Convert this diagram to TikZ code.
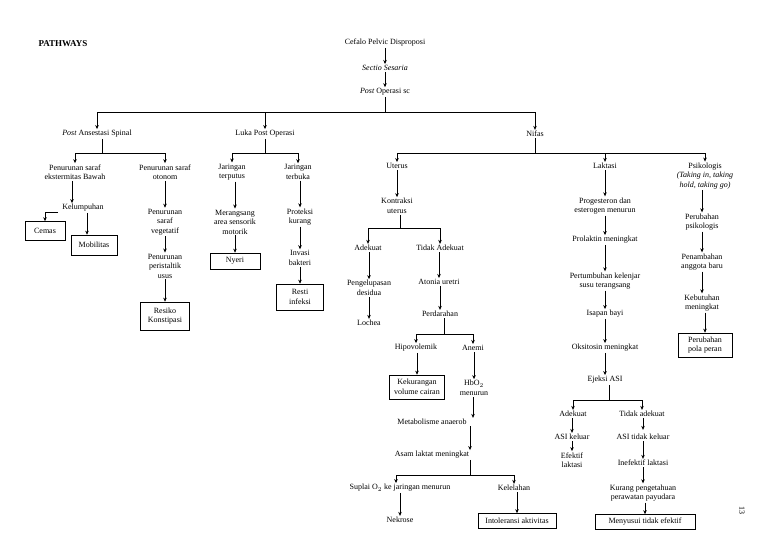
\documentclass[tikz,border=0pt]{standalone}
\usepackage{fontspec}
\setmainfont{Liberation Serif}
\usetikzlibrary{arrows.meta}
\begin{document}
\begin{tikzpicture}[x=1pt,y=-1pt,
  t/.style={inner sep=1pt,align=center,font=\fontsize{8}{9.5}\selectfont},
  bx/.style={t,draw,inner sep=2.5pt},
  arr/.style={-{Stealth[length=4pt,width=3.5pt]}},
  every path/.style={line width=0.6pt}]
\useasboundingbox (0,0) rectangle (768,543);
\newcommand{\va}[2]{\draw[arr] (#2.north |- #1.south) -- (#2.north);}
\node[t,font=\fontsize{9}{10}\selectfont\bfseries] (pw) at (63,44) {PATHWAYS};
\node[t] (cpd) at (385,43) {Cefalo Pelvic Disproposi};
\node[t] (ss) at (385,68) {\itshape Sectio Sesaria};
\node[t] (po) at (385,92) {\textit{Post} Operasi sc};
\node[t] (pas) at (97,134) {\textit{Post} Ansestasi Spinal};
\node[t] (lpo) at (265,134) {Luka Post Operasi};
\node[t] (nif) at (535,134) {Nifas};
\va{cpd}{ss}\va{ss}{po}
\draw (po.south) -- (po.south |- 0,112);
\draw (pas.north |- 0,112) -- (nif.north |- 0,112);
\foreach \n in {pas,lpo,nif}{\draw[arr] (\n.north |- 0,112) -- (\n.north);}
% Post anestesi
\node[t] (pse) at (75,172) {Penurunan saraf\\ekstermitas Bawah};
\node[t] (pso) at (165,172) {Penurunan saraf\\otonom};
\draw (102,0 |- pas.south) -- (102,153);
\draw (pse.north |- 0,153) -- (pso.north |- 0,153);
\foreach \n in {pse,pso}{\draw[arr] (\n.north |- 0,153) -- (\n.north);}
\node[t] (kel) at (83,208) {Kelumpuhan};
\draw[arr] (72,0 |- pse.south) -- (72,0 |- kel.north);
\node[bx,minimum width=40pt,minimum height=19pt] (cem) at (45,231) {Cemas};
\coordinate (kl) at (58,212);
\draw[arr] (kl) -| (cem.north);
\node[bx,minimum width=46pt,minimum height=20pt] (mob) at (94,245) {Mobilitas};
\draw[arr] (87,0 |- kel.south) -- (87,0 |- mob.north);
\node[t] (psv) at (165,222) {Penurunan\\saraf\\vegetatif};
\node[t] (ppu) at (165,266) {Penurunan\\peristaltik\\usus};
\node[bx,minimum width=49pt,minimum height=28pt] (rk) at (165,316) {Resiko\\Konstipasi};
\va{pso}{psv}\va{psv}{ppu}\va{ppu}{rk}
% Luka
\node[t] (jtp) at (232,172) {Jaringan\\terputus};
\node[t] (jtb) at (298,172) {Jaringan\\terbuka};
\draw (lpo.south) -- (lpo.south |- 0,153);
\draw (jtp.north |- 0,153) -- (jtb.north |- 0,153);
\foreach \n in {jtp,jtb}{\draw[arr] (\n.north |- 0,153) -- (\n.north);}
\node[t] (mas) at (235,222) {Merangsang\\area sensorik\\motorik};
\node[bx,minimum width=50pt,minimum height=16pt] (ny) at (235,261) {Nyeri};
\va{jtp}{mas}\va{mas}{ny}
\node[t] (pk) at (300,217) {Proteksi\\kurang};
\node[t] (ib) at (300,258) {Invasi\\bakteri};
\node[bx,minimum width=47pt,minimum height=26pt] (ri) at (300,297) {Resti\\infeksi};
\va{jtb}{pk}\va{pk}{ib}\va{ib}{ri}
% Nifas
\node[t] (ut) at (397,166) {Uterus};
\node[t] (lak) at (605,166) {Laktasi};
\node[t] (psi) at (705,176) {Psikologis\\\itshape(Taking in, taking\\\itshape hold, taking go)};
\draw (nif.south) -- (nif.south |- 0,153);
\draw (ut.north |- 0,153) -- (psi.north |- 0,153);
\foreach \n in {ut,lak,psi}{\draw[arr] (\n.north |- 0,153) -- (\n.north);}
\node[t] (ku) at (397,206) {Kontraksi\\uterus};
\va{ut}{ku}
\node[t] (ad) at (368,248) {Adekuat};
\node[t] (tad) at (440,248) {Tidak Adekuat};
\draw (400,0 |- ku.south) -- (400,228);
\draw (ad.north |- 0,228) -- (tad.north |- 0,228);
\foreach \n in {ad,tad}{\draw[arr] (\n.north |- 0,228) -- (\n.north);}
\node[t] (pd) at (369,288) {Pengelupasan\\desidua};
\node[t] (lo) at (369,323) {Lochea};
\va{ad}{pd}\va{pd}{lo}
\node[t] (au) at (439,282) {Atonia uretri};
\node[t] (per) at (440,314) {Perdarahan};
\va{tad}{au}\va{au}{per}
\node[t] (hip) at (416,348) {Hipovolemik};
\node[t] (an) at (473,348) {Anemi};
\draw (444,0 |- per.south) -- (444,334);
\draw (hip.north |- 0,334) -- (an.north |- 0,334);
\foreach \n in {hip,an}{\draw[arr] (\n.north |- 0,334) -- (\n.north);}
\node[bx,minimum width=55pt,minimum height=24pt] (kvc) at (417,387) {Kekurangan\\volume cairan};
\node[t] (hbo) at (474,388) {HbO$_2$\\menurun};
\va{hip}{kvc}\va{an}{hbo}
\node[t] (ma) at (432,422) {Metabolisme anaerob};
\draw[arr] (473,0 |- hbo.south) -- (473,0 |- ma.north);
\node[t] (alm) at (432,455) {Asam laktat meningkat};
\draw[arr] (470,0 |- ma.south) -- (470,0 |- alm.north);
\node[t] (sup) at (400,488) {Suplai O$_2$ ke jaringan menurun};
\node[t] (kll) at (514,488) {Kelelahan};
\draw (470,0 |- alm.south) -- (470,475);
\draw (396,475) -- (514,475);
\draw[arr] (396,475) -- (396,0 |- sup.north);
\draw[arr] (kll.north |- 0,475) -- (kll.north);
\node[t] (nek) at (400,520) {Nekrose};
\node[bx,minimum width=78pt,minimum height=15pt] (ia) at (517,521) {Intoleransi aktivitas};
\va{sup}{nek}\va{kll}{ia}
% Laktasi
\node[t] (pem) at (605,206) {Progesteron dan\\esterogen menurun};
\node[t] (prm) at (605,240) {Prolaktin meningkat};
\node[t] (pks) at (605,281) {Pertumbuhan kelenjar\\susu terangsang};
\node[t] (ib2) at (605,314) {Isapan bayi};
\node[t] (okm) at (605,348) {Oksitosin meningkat};
\node[t] (ej) at (605,380) {Ejeksi ASI};
\va{lak}{pem}\va{pem}{prm}\va{prm}{pks}\va{pks}{ib2}\va{ib2}{okm}\va{okm}{ej}
\node[t] (ad2) at (573,414) {Adekuat};
\node[t] (tad2) at (642,414) {Tidak adekuat};
\draw (609,0 |- ej.south) -- (609,400);
\draw (ad2.north |- 0,400) -- (tad2.north |- 0,400);
\foreach \n in {ad2,tad2}{\draw[arr] (\n.north |- 0,400) -- (\n.north);}
\node[t] (ak) at (572,437) {ASI keluar};
\node[t] (el) at (572,460) {Efektif\\laktasi};
\va{ad2}{ak}\va{ak}{el}
\node[t] (atk) at (643,437) {ASI tidak keluar};
\node[t] (inl) at (643,463) {Inefektif laktasi};
\node[t] (kpp) at (643,493) {Kurang pengetahuan\\perawatan payudara};
\node[bx,minimum width=100pt,minimum height=15pt] (mte) at (645,522) {Menyusui tidak efektif};
\draw[arr] (atk.north |- tad2.south) -- ([yshift=3pt]atk.north);
\va{atk}{inl}\va{inl}{kpp}\va{kpp}{mte}
% Psikologis
\node[t] (pp) at (702,222) {Perubahan\\psikologis};
\node[t] (pab) at (702,262) {Penambahan\\anggota baru};
\node[t] (km) at (702,303) {Kebutuhan\\meningkat};
\node[bx,minimum width=54pt,minimum height=24pt] (ppr) at (705,345) {Perubahan\\pola peran};
\va{psi}{pp}\va{pp}{pab}\va{pab}{km}\va{km}{ppr}
\node[t,rotate=-90] (pg) at (742,510) {13};
\end{tikzpicture}
\end{document}
